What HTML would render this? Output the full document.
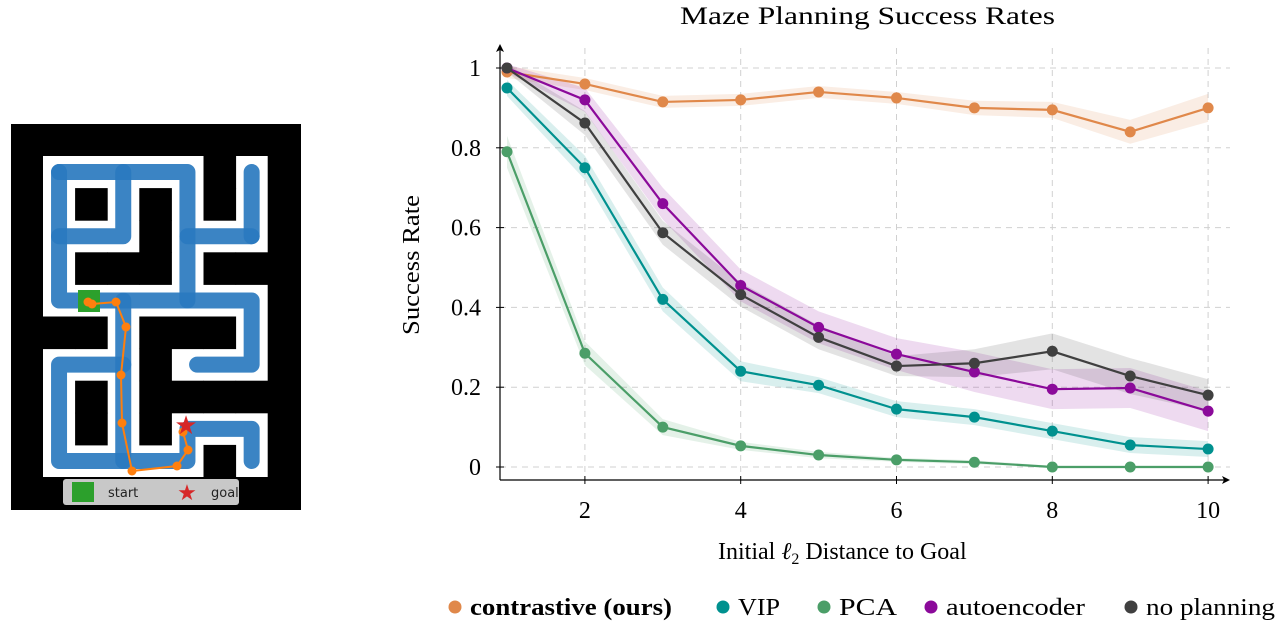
<!DOCTYPE html>
<html><head><meta charset="utf-8">
<style>
body{margin:0;background:#fff;width:1275px;height:621px;overflow:hidden;}
svg text{font-family:"Liberation Serif",serif;}
</style></head>
<body>
<svg width="1275" height="621" xmlns="http://www.w3.org/2000/svg">
<g id="maze"></g>
<g id="chart"></g>
</svg>
<script>
const distances=[1,2,3,4,5,6,7,8,9,10];
const contrastive=[0.99,0.96,0.915,0.92,0.94,0.925,0.9,0.895,0.84,0.90];
const contrastiveBand=[0.015,0.015,0.015,0.015,0.015,0.015,0.018,0.02,0.03,0.035];
const vip=[0.95,0.75,0.42,0.24,0.205,0.145,0.125,0.09,0.055,0.045];
const vipBand=[0.02,0.03,0.03,0.025,0.02,0.02,0.02,0.02,0.02,0.02];
const pca=[0.79,0.285,0.10,0.053,0.03,0.018,0.012,0.0,0.0,0.0];
const pcaBand=[0.04,0.03,0.02,0.01,0.008,0.005,0.005,0.003,0.003,0.003];
const autoencoder=[1.0,0.92,0.66,0.455,0.35,0.283,0.238,0.195,0.198,0.14];
const autoencoderBand=[0.01,0.03,0.04,0.04,0.04,0.04,0.05,0.05,0.05,0.05];
const noPlanning=[1.0,0.862,0.587,0.432,0.325,0.253,0.26,0.29,0.228,0.18];
const noPlanningBand=[0.01,0.03,0.03,0.03,0.03,0.025,0.035,0.045,0.045,0.04];
const xTicks=[2,4,6,8,10];
const yTicks=[0,0.2,0.4,0.6,0.8,1];
const yTickLabels=["0","0.2","0.4","0.6","0.8","1"];
const seriesNames=["contrastive (ours)","VIP","PCA","autoencoder","no planning"];

const NS="http://www.w3.org/2000/svg";
function mk(tag,attrs,parent){const e=document.createElementNS(NS,tag);for(const k in attrs)e.setAttribute(k,attrs[k]);parent.appendChild(e);return e;}
const X=v=>507+(v-1)*77.9;
const Y=v=>467-v*399;

// maze
const mz=document.getElementById('maze');
let el=mk('rect',{x:11,y:124,width:290,height:386,fill:'#000'},mz);


const cs=32.1,ox=43,oy=156;
el=mk('rect',{x:ox,y:oy,width:cs*7,height:cs*10,fill:'#fff'},mz);


const walls=[[1,1],[3,1],[3,2],[1,3],[2,3],[3,3],[5,0],[5,1],[5,3],[6,3],[0,5],[1,5],[3,5],[4,5],[5,5],[3,6],[3,7],[3,8],[4,7],[5,7],[6,7],[1,7],[1,8],[5,9]];
walls.forEach(w=>{const r=mk('rect',{x:ox+w[0]*cs,y:oy+w[1]*cs,width:cs+0.5,height:cs+0.5,fill:'#000'},mz);

});
const C=(c,r)=>[ox+(c+0.5)*cs,oy+(r+0.5)*cs];
const paths=[[[0,0],[4,0],[4,4]],[[0,0],[0,4],[6,4],[6,6],[4.3,6]],[[2,0],[2,2],[0,2]],[[4,2],[6,2]],[[6,0],[6,2]],[[2,4],[2,9]],[[2,6],[0,6],[0,9],[4,9],[4,8],[6,8],[6,9]]];
paths.forEach(p=>{const pl=mk('polyline',{points:p.map(q=>C(q[0],q[1]).join(',')).join(' '),fill:'none',stroke:'#2a7abf','stroke-width':16,'stroke-linejoin':'round','stroke-linecap':'round','stroke-opacity':0.92},mz);

});
el=mk('rect',{x:78,y:290,width:22,height:22,fill:'#2ca02c'},mz);


const plan=[[88,302],[92,304],[116,302],[126,327],[121,375],[122,423],[132,471],[177,466],[188,450],[183,432]];
el=mk('polyline',{points:plan.map(p=>p.join(',')).join(' '),fill:'none',stroke:'#ff7f0e','stroke-width':2},mz);


plan.forEach(p=>{const c=mk('circle',{cx:p[0],cy:p[1],r:4.5,fill:'#ff7f0e'},mz);

});
el=mk('text',{x:186,y:434,'font-size':26,fill:'#d62728','text-anchor':'middle'},mz);el.textContent='★';


el=mk('rect',{x:63,y:479,width:176,height:26,rx:3,fill:'#c8c8c8'},mz);


mk('rect',{x:72,y:482,width:22,height:20,fill:'#2ca02c'},mz);
let t=mk('text',{x:108,y:497,'font-size':13,fill:'#222'},mz);t.textContent='start';
t.setAttribute('style','font-family:"DejaVu Sans",sans-serif');
t=mk('text',{x:187,y:500,'font-size':22,fill:'#d62728','text-anchor':'middle'},mz);t.textContent='★';
t=mk('text',{x:211,y:497,'font-size':13,fill:'#222'},mz);t.textContent='goal';
t.setAttribute('style','font-family:"DejaVu Sans",sans-serif');

// chart
const ch=document.getElementById('chart');
xTicks.forEach(v=>{const l=mk('line',{x1:X(v),x2:X(v),y1:48,y2:480,stroke:'#d0d0d0','stroke-dasharray':'6,5'},ch);

const tx=mk('text',{x:X(v),y:518,'font-size':24,'text-anchor':'middle'},ch);tx.textContent=v;

mk('line',{x1:X(v),x2:X(v),y1:484,y2:476,stroke:'#000'},ch);});
yTicks.forEach((v,i)=>{const l=mk('line',{x1:500,x2:1230,y1:Y(v),y2:Y(v),stroke:'#d0d0d0','stroke-dasharray':'6,5'},ch);

const tx=mk('text',{x:481,y:Y(v)+8,'font-size':24,'text-anchor':'end'},ch);tx.textContent=yTickLabels[i];

mk('line',{x1:496,x2:504,y1:Y(v),y2:Y(v),stroke:'#000'},ch);});
const colors=['#e0884a','#00918f','#4b9e68','#8b0a9a','#404040'];
const data=[contrastive,vip,pca,autoencoder,noPlanning];
const bands=[contrastiveBand,vipBand,pcaBand,autoencoderBand,noPlanningBand];
const names=['contrastive','vip','pca','autoencoder','no-planning'];
data.forEach((s,k)=>{
 const up=distances.map((d,i)=>X(d)+','+Y(s[i]+bands[k][i]));
 const lo=distances.map((d,i)=>X(d)+','+Y(Math.max(0,s[i]-bands[k][i]))).reverse();
 const b=mk('polygon',{points:up.concat(lo).join(' '),fill:colors[k],'fill-opacity':0.15},ch);
 
});
data.forEach((s,k)=>{
 const l=mk('polyline',{points:distances.map((d,i)=>X(d)+','+Y(s[i])).join(' '),fill:'none',stroke:colors[k],'stroke-width':2.2},ch);
 
 distances.forEach((d,i)=>{const c=mk('circle',{cx:X(d),cy:Y(s[i]),r:5.5,fill:colors[k]},ch);
 });
});
el=mk('line',{x1:500,x2:1226,y1:480,y2:480,stroke:'#000','stroke-width':1.2},ch);

mk('path',{d:'M1230,480 l-8,-4 l2,4 l-2,4 z',fill:'#000'},ch);
el=mk('line',{x1:500,x2:500,y1:480,y2:48,stroke:'#000','stroke-width':1.2},ch);

mk('path',{d:'M500,44 l-4,8 l4,-2 l4,2 z',fill:'#000'},ch);
t=mk('text',{x:680,y:24,'font-size':25,textLength:375,lengthAdjust:'spacingAndGlyphs'},ch);t.textContent='Maze Planning Success Rates';

t=mk('text',{x:0,y:0,'font-size':24,'text-anchor':'middle',textLength:140,lengthAdjust:'spacingAndGlyphs',transform:'translate(419,265) rotate(-90)'},ch);t.textContent='Success Rate';

t=mk('text',{x:718,y:559,'font-size':24},ch);
t.innerHTML='Initial <tspan font-style="italic">ℓ</tspan><tspan font-size="16" dy="5">2</tspan><tspan dy="-5"> Distance to Goal</tspan>';

const lgx=[455,723,824,931,1131];
const lgw=[202,42,58,139,129];
seriesNames.forEach((n,k)=>{
 const c=mk('circle',{cx:lgx[k],cy:607,r:6.5,fill:colors[k]},ch);
 
 const tx=mk('text',{x:lgx[k]+15,y:615,'font-size':24,textLength:lgw[k],lengthAdjust:'spacingAndGlyphs'},ch);
 if(k===0)tx.setAttribute('font-weight','bold');
 tx.textContent=n;
 
});
</script>
</body></html>
